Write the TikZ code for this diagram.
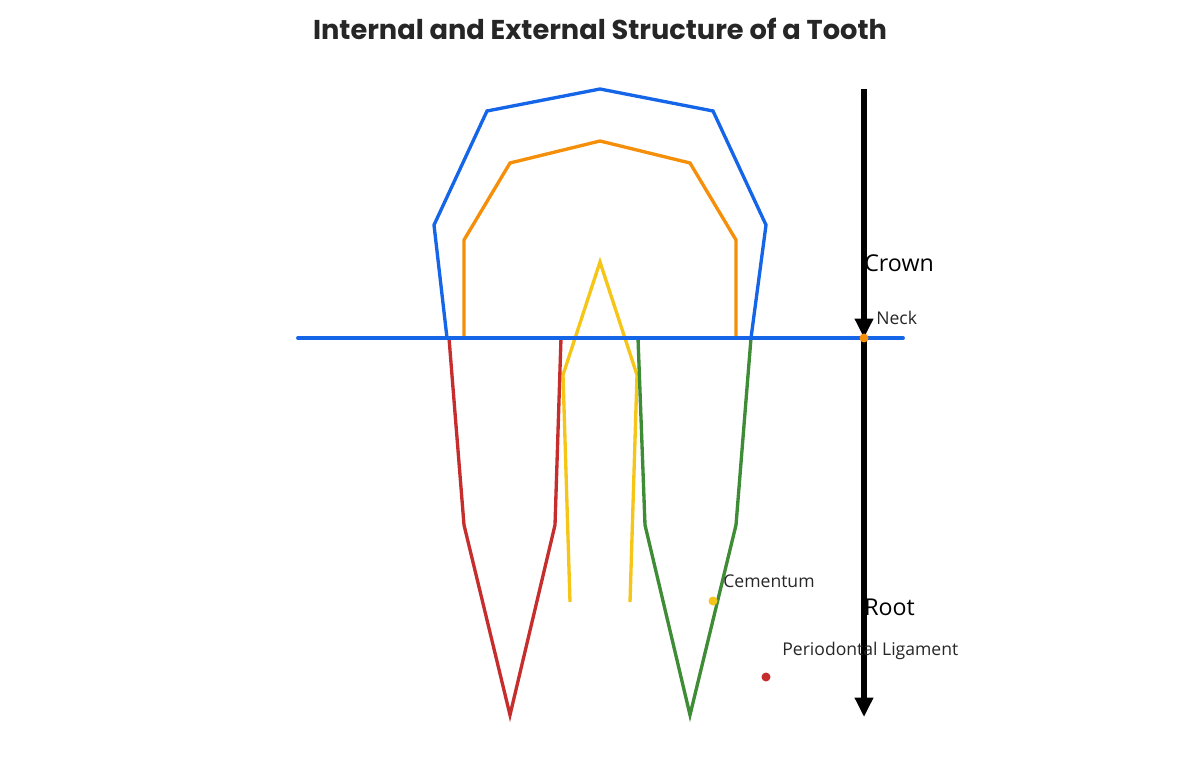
\documentclass[tikz,border=0pt]{standalone}
\usepackage{fontspec}
\setmainfont{Poppins}
\newfontfamily\lab{Open Sans}
\usetikzlibrary{arrows.meta}
\definecolor{cblue}{HTML}{1565E8}
\definecolor{corange}{HTML}{F58F0A}
\definecolor{cyellow}{HTML}{F5C518}
\definecolor{cred}{HTML}{C62E2E}
\definecolor{cgreen}{HTML}{3E8C35}
\begin{document}
\begin{tikzpicture}[x=0.02cm,y=-0.02cm,
  part/.style={line width=1.9pt,line join=miter},
  lbl/.style={anchor=west,inner sep=0pt,font=\lab\fontsize{10}{12}\selectfont,text=black!85},
  big/.style={anchor=west,inner sep=0pt,font=\lab\fontsize{13.2}{16}\selectfont}]
\useasboundingbox (0,0) rectangle (1200,763);
\node[font=\fontseries{sb}\selectfont\fontsize{15.5}{19}\selectfont,text=black!85] (title) at (600,29) {Internal and External Structure of a Tooth};
\draw[part,cblue] (447,338)--(434,225)--(487,111)--(600,89)--(713,111)--(766,225)--(751,338);
\draw[part,corange] (464,338)--(464,240)--(510,163)--(600,141)--(690,163)--(736,240)--(736,338);
\draw[part,cyellow] (570,602)--(563,375)--(600,262)--(637,375)--(630,602);
\draw[part,cred] (449,338)--(464,525)--(510,715)--(555,525)--(561,338);
\draw[part,cgreen] (638,338)--(645,525)--(690,715)--(736,525)--(751,338);
\draw[line width=2.2pt,cblue,line cap=round] (298,338)--(903,338);
\coordinate (top) at (864,89);
\coordinate (neck) at (864,338);
\coordinate (bot) at (864,717);
\draw[line width=3.4pt,-{Triangle[length=11pt,width=10pt]}] (top)--(neck);
\draw[line width=3.4pt,-{Triangle[length=11pt,width=10pt]}] (neck)--(bot);
\fill[corange] (neck) circle (4.5);
\node[big] (crown) at (864,263) {Crown};
\node[big] (root) at (864,607) {Root};
\node[lbl] (necklbl) at (876,318) {Neck};
\fill[cyellow] (713,601) circle (4.5);
\node[lbl] (cem) at (723,581) {Cementum};
\fill[cred] (766,677) circle (4.5);
\node[lbl] (pdl) at (782,651) {Periodontal Ligament};
\end{tikzpicture}
\end{document}
